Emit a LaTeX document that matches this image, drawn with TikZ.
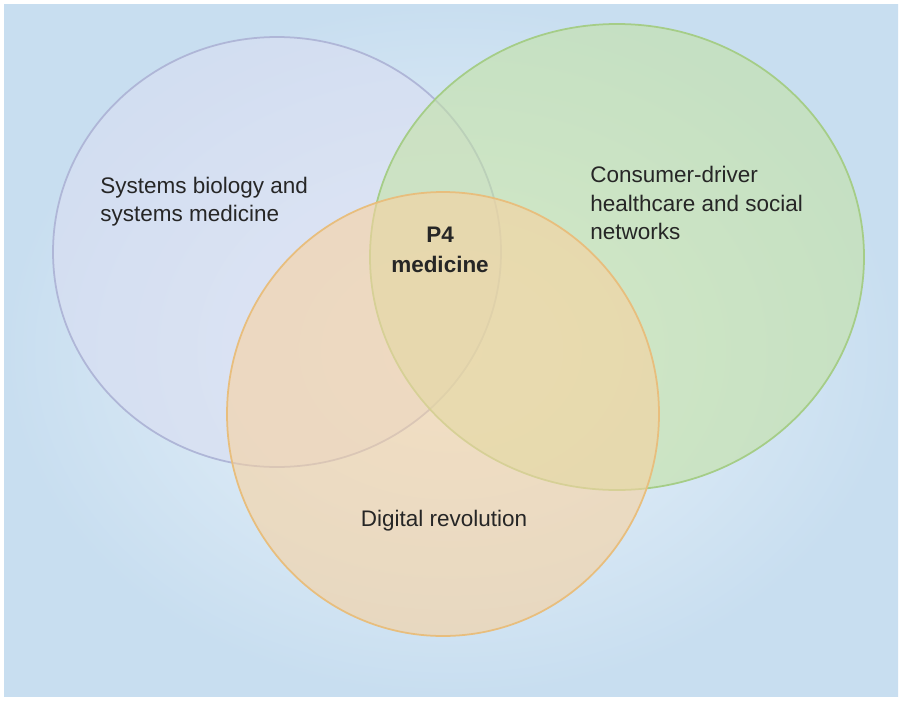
\documentclass[tikz,border=0pt]{standalone}
\usepackage{fontspec}
\setmainfont{Liberation Sans}
\usetikzlibrary{positioning}
\definecolor{bgblue}{RGB}{200,222,240}
\definecolor{bglight}{RGB}{236,244,250}
\definecolor{sysfill}{RGB}{218,222,242}
\definecolor{sysline}{RGB}{175,182,215}
\definecolor{consfill}{RGB}{196,226,165}
\definecolor{consline}{RGB}{165,205,135}
\definecolor{digfill}{RGB}{248,210,160}
\definecolor{digline}{RGB}{232,190,125}
\begin{document}
\begin{tikzpicture}[x=0.02cm,y=-0.02cm,
            every node/.style={font=\fontsize{12.8}{16}\selectfont, text=black!85},
            sphere/.style={fill opacity=0.6, draw opacity=1, line width=1pt}]
    \useasboundingbox (0,0) rectangle (902,700);
    \fill[white] (0,0) rectangle (902,700);
    \shade[inner color=bglight, outer color=bgblue] (4,4) rectangle (898,696);
    % the three fields
    \draw[sphere, fill=sysfill, draw=sysline] (277,252) ellipse (224 and 215);
    \draw[sphere, fill=consfill, draw=consline] (617,257) ellipse (247 and 233);
    \draw[sphere, fill=digfill, draw=digline] (443,414) ellipse (216 and 222);
    % labels
    \node[align=left, anchor=west, inner sep=0pt] (sys) at (100,202) {Systems biology and\\systems medicine};
    \node[align=left, anchor=west, inner sep=0pt] (cons) at (590,203) {Consumer-driver\\healthcare and social\\networks};
    \node[align=center, font=\fontsize{12.8}{17}\selectfont\bfseries] (p4) at (440,250) {P4\\medicine};
    \node (dig) at (444,521) {Digital revolution};
\end{tikzpicture}
\end{document}
